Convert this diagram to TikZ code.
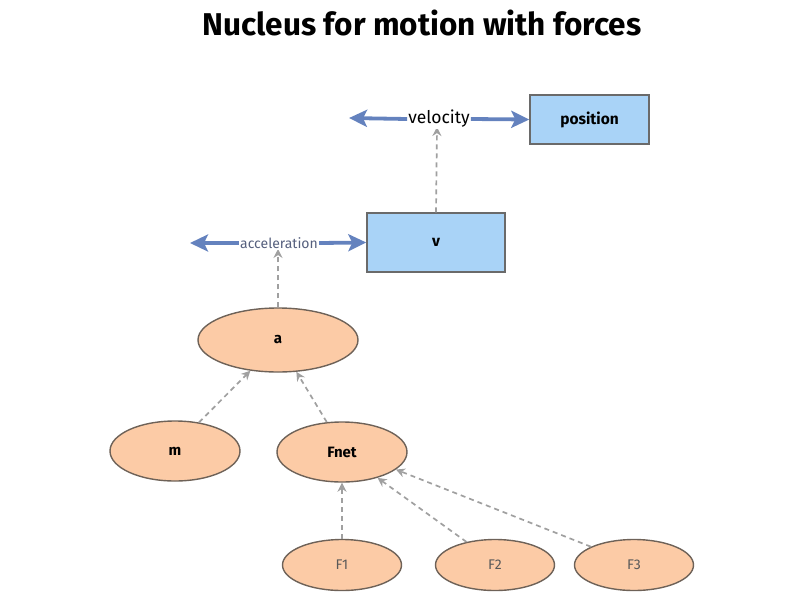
\documentclass[tikz,border=0pt]{standalone}
\usepackage{fontspec}
\setmainfont{Fira Sans}
\usetikzlibrary{shapes.geometric,arrows.meta}
\definecolor{peach}{HTML}{FCCBA6}
\definecolor{peachline}{HTML}{6E6258}
\definecolor{skyfill}{HTML}{A9D3F7}
\definecolor{boxline}{HTML}{6A6A6A}
\definecolor{arrowblue}{HTML}{6482BE}
\definecolor{dashgray}{HTML}{A0A0A0}
\definecolor{labelblue}{HTML}{56607E}
\tikzset{
  qty/.style={ellipse, draw=peachline, fill=peach, line width=1.4pt, inner sep=0pt,
    minimum width=130pt, minimum height=60pt, font=\fontsize{15}{17}\selectfont\bfseries},
  leaf/.style={ellipse, draw=peachline, fill=peach, line width=1.4pt, inner sep=0pt,
    minimum width=119pt, minimum height=51pt, font=\fontsize{14}{16}\selectfont, text=black!65},
  stockbox/.style={rectangle, draw=boxline, fill=skyfill, line width=1.4pt, inner sep=0pt,
    font=\fontsize{15.5}{17}\selectfont\bfseries},
  flowlabel/.style={inner sep=1pt, fill=white},
  flowarrow/.style={draw=arrowblue, line width=3.8pt, -{Stealth[length=18pt,width=17pt,inset=4pt]}},
  influence/.style={draw=dashgray, line width=1.7pt, dash pattern=on 5pt off 4pt,
    -{Stealth[length=9pt,width=9pt]}},
}
\begin{document}
\begin{tikzpicture}[x=1pt,y=-1pt]
\useasboundingbox (0,0) rectangle (800,600);
\node (title) at (422,23) {\fontsize{31.5}{34}\selectfont\bfseries Nucleus for motion with forces};

\node[stockbox, minimum width=119pt, minimum height=49pt] (position) at (589.5,119.5) {position};
\node[stockbox, minimum width=138pt, minimum height=59pt] (v) at (436,242.5) {v};

\coordinate (velL) at (349,118);
\coordinate (accL) at (190,243);

\node[qty, minimum width=160pt, minimum height=64pt] (a) at (278,340) {a};
\node[qty] (m) at (175,451) {m};
\node[qty] (Fnet) at (342,452) {Fnet};
\node[leaf] (F1) at (342,565) {F1};
\node[leaf] (F2) at (495,565) {F2};
\node[leaf] (F3) at (634,565) {F3};

% dashed influences
\draw[influence] (v.north) -- (437,127);
\draw[influence] (a.north) -- (278,249);
\draw[influence] (m.50) -- (a.228);
\draw[influence] (Fnet.117) -- (a.300);
\draw[influence] (F1.north) -- (Fnet.south);
\draw[influence] (F2.141) -- (Fnet.-36);
\draw[influence] (F3.157) -- (Fnet.-18);

% flow labels
\node[flowlabel, font=\fontsize{17.5}{19}\selectfont] (velocity) at (439,119) {velocity};
\node[flowlabel, font=\fontsize{14}{16}\selectfont, text=labelblue] (acceleration) at (279,243) {acceleration};

\draw[flowarrow] (velocity.west) -- (velL);
\draw[flowarrow] (velocity.east) -- (position.west);
\draw[flowarrow] (acceleration.west) -- (accL);
\draw[flowarrow] (acceleration.east) -- (v.west);
\end{tikzpicture}
\end{document}
